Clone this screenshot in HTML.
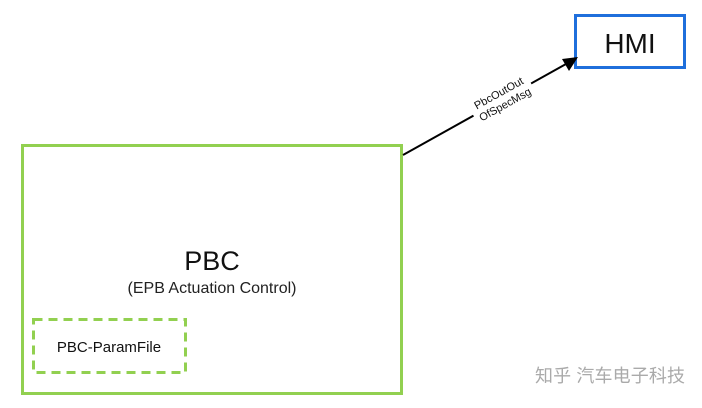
<!DOCTYPE html>
<html><head><style>
body{margin:0;background:#fff;width:702px;height:403px;overflow:hidden}
</style></head><body>
<svg width="702" height="403" xmlns="http://www.w3.org/2000/svg" font-family="Liberation Sans, sans-serif">
<rect x="22.5" y="145.5" width="379" height="248" fill="#fff" stroke="#92d050" stroke-width="3"/>
<rect x="33.5" y="319.5" width="152" height="53" fill="none" stroke="#92d050" stroke-width="3" stroke-dasharray="9,6"/>
<rect x="575.5" y="15.5" width="109" height="52" fill="#fff" stroke="#1f6fdc" stroke-width="3"/>
<text x="630" y="53" font-size="28" text-anchor="middle" fill="#111">HMI</text>
<text x="212" y="270" font-size="27" text-anchor="middle" fill="#111">PBC</text>
<text x="212" y="293" font-size="16" text-anchor="middle" fill="#222">(EPB Actuation Control)</text>
<text x="109" y="352" font-size="15" text-anchor="middle" fill="#111">PBC-ParamFile</text>
<line x1="403" y1="155" x2="566" y2="64" stroke="#000" stroke-width="2"/>
<polygon points="578,57 562,59 569,71" fill="#000"/>
<g transform="translate(502,99) rotate(-29)">
<rect x="-33" y="-14" width="66" height="27" fill="#fff"/>
<text x="0" y="-3" font-size="11" text-anchor="middle" fill="#111">PbcOutOut</text>
<text x="0" y="10" font-size="11" text-anchor="middle" fill="#111">OfSpecMsg</text>
</g>
<text x="535" y="382" font-size="18" fill="#aaa" font-family="Liberation Sans, Noto Sans CJK SC, sans-serif" textLength="150">知乎 汽车电子科技</text>
</svg>
</body></html>
